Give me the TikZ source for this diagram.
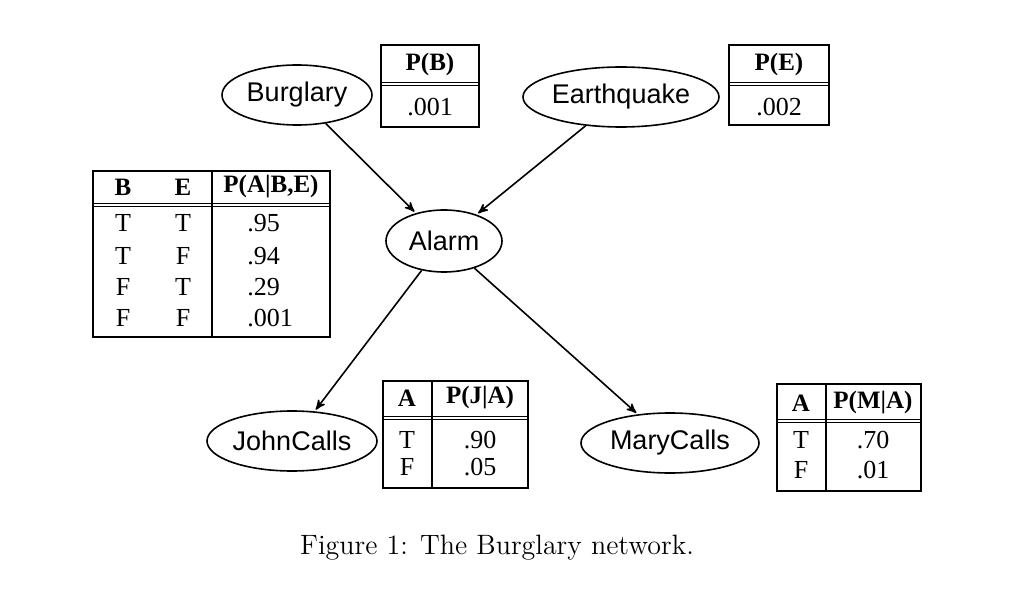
\documentclass[tikz,border=0pt]{standalone}
\usepackage{fontspec}
\newfontfamily\tms{Liberation Serif}
\newfontfamily\hlv{Liberation Sans}
\usetikzlibrary{shapes, arrows}
\tikzset{
  var/.style={ellipse, draw, thick, inner sep=0pt, font=\hlv\fontsize{13.5}{16}\selectfont},
  cell/.style={inner sep=0pt, font=\tms\fontsize{13}{15}\selectfont},
  head/.style={cell, font=\tms\bfseries\fontsize{12.5}{15}\selectfont},
  edge/.style={-stealth', thick, shorten >=1pt}
}
\begin{document}
\begin{tikzpicture}[x=0.5pt, y=-0.5pt]
\useasboundingbox (0,0) rectangle (1011,614);
% network
\node[var, minimum width=75pt, minimum height=30pt] (burglary) at (297,95) {Burglary};
\node[var, minimum width=98pt, minimum height=30pt] (earthquake) at (621,97) {Earthquake};
\node[var, minimum width=58pt, minimum height=31pt] (alarm) at (444,241) {Alarm};
\node[var, minimum width=85pt, minimum height=30pt] (john) at (292,441) {JohnCalls};
\node[var, minimum width=89pt, minimum height=30pt] (mary) at (670,443) {MaryCalls};
\draw[edge] (burglary) -- (alarm);
\draw[edge] (earthquake) -- (alarm);
\draw[edge] (alarm) -- (john);
\draw[edge] (alarm) -- (mary);
% P(B)
\draw[thick] (381,45) rectangle (479,127);
\draw (381,82) -- (479,82); \draw (381,85) -- (479,85);
\node[head] at (430,64) {P(B)};
\node[cell] at (430,107) {.001};
% P(E)
\draw[thick] (729,45) rectangle (829,125);
\draw (729,82) -- (829,82); \draw (729,85) -- (829,85);
\node[head] at (779,64) {P(E)};
\node[cell] at (779,107) {.002};
% P(A|B,E)
\draw[thick] (93,171) rectangle (330,337);
\draw[thick] (212,171) -- (212,337);
\draw (93,203) -- (330,203); \draw (93,206) -- (330,206);
\node[head] at (123,187) {B};
\node[head] at (183,187) {E};
\node[head] at (271,187) {P(A|B,E)};
\foreach \b/\e/\p/\y in {T/T/.95/223, T/F/.94/256, F/T/.29/287, F/F/.001/318} {
  \node[cell] at (123,\y) {\b};
  \node[cell] at (183,\y) {\e};
  \node[cell, anchor=west] at (247,\y) {\p};
}
% P(J|A)
\draw[thick] (383,381) rectangle (528,488);
\draw[thick] (432,381) -- (432,488);
\draw (383,416) -- (528,416); \draw (383,419) -- (528,419);
\node[head] at (407,398) {A};
\node[head] at (480,398) {P(J|A)};
\node[cell] at (407,440) {T};
\node[cell] at (407,467) {F};
\node[cell] at (480,440) {.90};
\node[cell] at (480,467) {.05};
% P(M|A)
\draw[thick] (777,384) rectangle (921,491);
\draw[thick] (826,384) -- (826,491);
\draw (777,419) -- (921,419); \draw (777,422) -- (921,422);
\node[head] at (801,403) {A};
\node[head] at (873,403) {P(M|A)};
\node[cell] at (801,440) {T};
\node[cell] at (801,470) {F};
\node[cell] at (873,440) {.70};
\node[cell] at (873,470) {.01};
% caption
\node[font=\fontsize{14}{17}\selectfont] (caption) at (497,548) {Figure 1: The Burglary network.};
\end{tikzpicture}
\end{document}
